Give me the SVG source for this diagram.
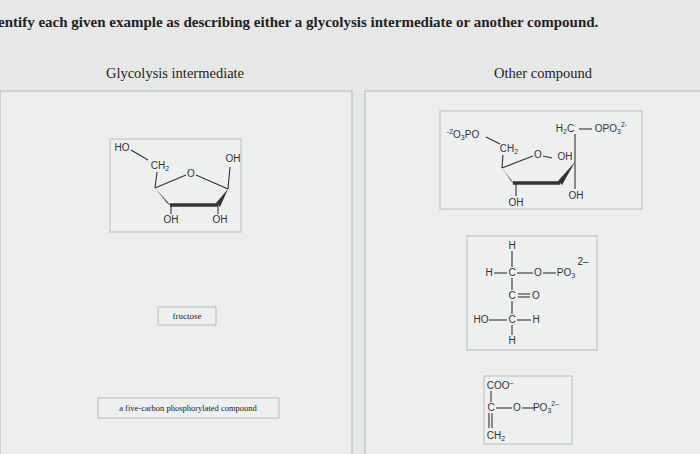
<svg xmlns="http://www.w3.org/2000/svg" width="700" height="454" viewBox="0 0 700 454">
<style>
.t{font-family:"Liberation Serif",serif;fill:#222}
.m{font-family:"Liberation Sans",sans-serif;font-size:10px;fill:#333;text-anchor:middle}
.s{font-size:7px}
.b{stroke:#333;stroke-width:1.1;fill:none}
.w{stroke:#333;stroke-width:3.5;fill:none}
.box{fill:#eef0f0;stroke:#b8bcbe;stroke-width:1}
.panel{fill:#eceeee;stroke:#c4c8ca;stroke-width:1.5}
</style>
<rect width="700" height="454" fill="#e6e8e7"/>
<text class="t" x="-2" y="27" font-size="15" font-weight="bold">entify each given example as describing either a glycolysis intermediate or another compound.</text>
<text class="t" x="175" y="78" font-size="14.5" text-anchor="middle">Glycolysis intermediate</text>
<text class="t" x="543" y="78" font-size="14.5" text-anchor="middle">Other compound</text>
<rect class="panel" x="0" y="91" width="352" height="370"/>
<rect class="panel" x="365" y="91" width="340" height="370"/>

<g id="ribose">
<rect class="box" x="110" y="139" width="131" height="93"/>
<text class="m" x="122" y="151">HO</text>
<line class="b" x1="131" y1="150" x2="148" y2="160"/>
<text class="m" x="160" y="169">CH<tspan class="s" dy="2">2</tspan></text>
<line class="b" x1="157" y1="172" x2="155" y2="188"/>
<line class="b" x1="155" y1="188" x2="186" y2="175"/>
<text class="m" x="191" y="177">O</text>
<line class="b" x1="196" y1="175" x2="228" y2="189"/>
<polygon points="155,188 167,203 172,207" fill="#333"/>
<line class="w" x1="170" y1="205" x2="218" y2="205"/>
<polygon points="228,189 216,203 220,207" fill="#333"/>
<line class="b" x1="171" y1="206" x2="171" y2="214"/>
<text class="m" x="171" y="223">OH</text>
<line class="b" x1="218" y1="206" x2="218" y2="214"/>
<text class="m" x="220" y="223">OH</text>
<line class="b" x1="228" y1="189" x2="230" y2="167"/>
<text class="m" x="233" y="162">OH</text>
</g>

<g id="fructose">
<rect class="box" x="158" y="307" width="58" height="18"/>
<text class="t" x="187" y="319" font-size="9" text-anchor="middle">fructose</text>
</g>
<g id="five-carbon">
<rect class="box" x="98" y="398" width="181" height="20"/>
<text class="t" x="188" y="411" font-size="8.5" text-anchor="middle">a five-carbon phosphorylated compound</text>
</g>

<g id="fbp">
<rect class="box" x="440" y="111" width="202" height="98"/>
<text class="m" x="463" y="138"><tspan class="s" dy="-4">-2</tspan><tspan dy="4">O</tspan><tspan class="s" dy="2">3</tspan><tspan dy="-2">PO</tspan></text>
<line class="b" x1="486" y1="137" x2="500" y2="144"/>
<text class="m" x="509" y="152">CH<tspan class="s" dy="2">2</tspan></text>
<line class="b" x1="503" y1="155" x2="502" y2="168"/>
<line class="b" x1="502" y1="168" x2="533" y2="156"/>
<text class="m" x="538" y="158">O</text>
<line class="b" x1="543" y1="156" x2="552" y2="158"/>
<text class="m" x="565" y="160">OH</text>
<polygon points="502,168 511,181 515,185" fill="#333"/>
<line class="w" x1="513" y1="183" x2="560" y2="183"/>
<polygon points="575,162 558,181 562,185" fill="#333"/>
<line class="b" x1="575" y1="134" x2="575" y2="189"/>
<text class="m" x="516" y="206">OH</text>
<line class="b" x1="516" y1="184" x2="516" y2="196"/>
<text class="m" x="576" y="199">OH</text>
<text class="m" x="565" y="132">H<tspan class="s" dy="2">2</tspan><tspan dy="-2">C</tspan></text>
<line class="b" x1="579" y1="129" x2="592" y2="129"/>
<text class="m" x="611" y="132">OPO<tspan class="s" dy="2">3</tspan><tspan class="s" dy="-7">2-</tspan></text>
</g>

<g id="dhap">
<rect class="box" x="467" y="236" width="130" height="114"/>
<text class="m" x="512" y="249">H</text>
<line class="b" x1="512" y1="251" x2="512" y2="267"/>
<text class="m" x="489" y="276">H</text>
<line class="b" x1="494" y1="273" x2="507" y2="273"/>
<text class="m" x="512" y="276">C</text>
<line class="b" x1="517" y1="273" x2="533" y2="273"/>
<text class="m" x="538" y="276">O</text>
<line class="b" x1="543" y1="273" x2="556" y2="273"/>
<text class="m" x="566" y="276">PO<tspan class="s" dy="2">3</tspan></text>
<text class="m" x="583" y="265">2–</text>
<line class="b" x1="512" y1="278" x2="512" y2="290"/>
<text class="m" x="512" y="299">C</text>
<line class="b" x1="518" y1="294" x2="530" y2="294"/>
<line class="b" x1="518" y1="297" x2="530" y2="297"/>
<text class="m" x="536" y="299">O</text>
<line class="b" x1="512" y1="301" x2="512" y2="314"/>
<text class="m" x="481" y="323">HO</text>
<line class="b" x1="489" y1="320" x2="507" y2="320"/>
<text class="m" x="512" y="323">C</text>
<line class="b" x1="517" y1="320" x2="531" y2="320"/>
<text class="m" x="536" y="323">H</text>
<line class="b" x1="512" y1="325" x2="512" y2="335"/>
<text class="m" x="512" y="344">H</text>
</g>

<g id="pep">
<rect class="box" x="484" y="376" width="88" height="68"/>
<text class="m" x="500" y="389">COO<tspan class="s" dy="-4">–</tspan></text>
<line class="b" x1="491" y1="391" x2="491" y2="402"/>
<text class="m" x="491" y="411">C</text>
<line class="b" x1="496" y1="408" x2="512" y2="408"/>
<text class="m" x="517" y="411">O</text>
<line class="b" x1="522" y1="408" x2="535" y2="408"/>
<text class="m" x="546" y="411">PO<tspan class="s" dy="2">3</tspan><tspan class="s" dy="-7">2–</tspan></text>
<line class="b" x1="489" y1="413" x2="489" y2="428"/>
<line class="b" x1="492" y1="413" x2="492" y2="428"/>
<text class="m" x="496" y="439">CH<tspan class="s" dy="2">2</tspan></text>
</g>
</svg>
